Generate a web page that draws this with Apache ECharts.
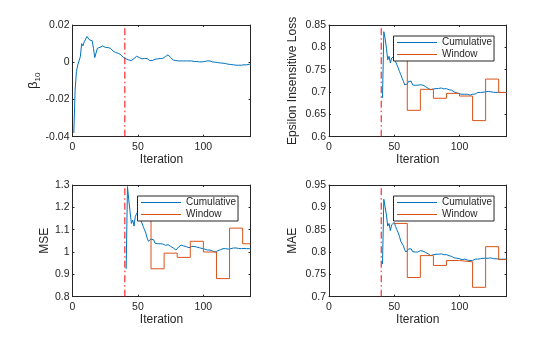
<!DOCTYPE html>
<html><head><meta charset="utf-8">
<script src="https://cdn.jsdelivr.net/npm/echarts@6/dist/echarts.min.js"></script>
<style>html,body{margin:0;padding:0;background:#fff}#c{width:560px;height:337px}</style>
</head><body><div id="c"></div>
<script>
// ---------------- data ----------------
const iterMax = 136;
const warmupPeriod = 40;
const xTicks = [0, 50, 100];

// beta_10 estimate, iterations 1..136
const beta10 = [
-0.038, -0.015, -0.005, -0.0015, -0.002, 0.003, 0.010, 0.0088, 0.011, 0.010,
0.0138, 0.0132, 0.012, 0.0123, 0.0116, 0.0075, 0.0025, 0.003, 0.0075, 0.008,
0.008, 0.0084, 0.0088, 0.009, 0.008, 0.0075, 0.0079, 0.0079, 0.0075, 0.0066,
0.006, 0.0055, 0.0052, 0.0054, 0.0048, 0.0043, 0.004, 0.003, 0.0025, 0.0021,
0.0018, 0.0016, 0.0012, 0.0009, 0.0009, 0.0012, 0.002, 0.003, 0.0032, 0.003,
0.0025, 0.0021, 0.0018, 0.0021, 0.002, 0.0016, 0.002, 0.0016, 0.0009, 0.0007,
0.0009, 0.0012, 0.0016, 0.0018, 0.0018, 0.002, 0.002, 0.0018, 0.0021, 0.0025,
0.003, 0.0036, 0.004, 0.0034, 0.0025, 0.0016, 0.0012, 0.0011, 0.0009, 0.0009,
0.0007, 0.0009, 0.0007, 0.0009, 0.0007, 0.0009, 0.0007, 0.0005, 0.0007, 0.0009,
0.0007, 0.0004, 0.0004, 0.0005, 0.0004, 0.0002, 0.0002, 0, 0.0002, 0.0002,
0.0004, 0.0005, 0.0007, 0.0009, 0.0007, 0.0004, 0.0002, 0, 0, -0.0002,
-0.0002, -0.0002, -0.0004, -0.0004, -0.0005, -0.0005, -0.0007, -0.0009, -0.0011, -0.0012,
-0.0012, -0.0014, -0.0014, -0.0014, -0.0016, -0.0016, -0.0016, -0.0016, -0.0016, -0.0016,
-0.0014, -0.0014, -0.0014, -0.0012, -0.0011, -0.0011
];

// cumulative metrics, iterations 41..136
const cumStart = 41;
const epsCum = [
0.687, 0.835, 0.82, 0.798, 0.772, 0.78, 0.765, 0.776, 0.773, 0.78,
0.768, 0.761, 0.754, 0.746, 0.739, 0.731, 0.724, 0.716, 0.715, 0.718,
0.724, 0.727, 0.724, 0.716, 0.714, 0.715, 0.716, 0.7155, 0.714, 0.716,
0.715, 0.7155, 0.714, 0.712, 0.71, 0.708, 0.707, 0.705, 0.704, 0.707,
0.708, 0.7075, 0.707, 0.708, 0.71, 0.709, 0.7075, 0.707, 0.708, 0.7075,
0.706, 0.705, 0.704, 0.704, 0.701, 0.7, 0.699, 0.698, 0.697, 0.696,
0.696, 0.695, 0.694, 0.695, 0.6955, 0.695, 0.694, 0.693, 0.694, 0.695,
0.694, 0.6955, 0.697, 0.699, 0.7, 0.699, 0.7, 0.6995, 0.7, 0.7005,
0.701, 0.7015, 0.701, 0.7005, 0.7, 0.6995, 0.699, 0.699, 0.699, 0.6995,
0.699, 0.699, 0.699, 0.699, 0.699, 0.699
];
const mseCum = [
0.924, 1.293, 1.233, 1.18, 1.128, 1.143, 1.116, 1.16, 1.167, 1.182,
1.16, 1.145, 1.13, 1.115, 1.1, 1.085, 1.063, 1.048, 1.052, 1.058,
1.066, 1.055, 1.04, 1.033, 1.037, 1.033, 1.037, 1.033, 1.036, 1.033,
1.03, 1.029, 1.033, 1.029, 1.025, 1.022, 1.018, 1.013, 1.009, 1.016,
1.022, 1.028, 1.031, 1.028, 1.027, 1.025, 1.024, 1.021, 1.019, 1.022,
1.025, 1.027, 1.025, 1.024, 1.022, 1.021, 1.019, 1.018, 1.016, 1.015,
1.013, 1.01, 1.009, 1.01, 1.009, 1.007, 1.004, 1.001, 1.0, 1.003,
1.006, 1.007, 1.01, 1.013, 1.015, 1.016, 1.015, 1.013, 1.013, 1.015,
1.015, 1.016, 1.018, 1.019, 1.018, 1.016, 1.016, 1.015, 1.015, 1.015,
1.016, 1.015, 1.015, 1.016, 1.015, 1.015
];
const maeCum = [
0.773, 0.918, 0.901, 0.883, 0.858, 0.864, 0.848, 0.861, 0.864, 0.866,
0.857, 0.85, 0.843, 0.835, 0.824, 0.819, 0.814, 0.805, 0.8, 0.801,
0.807, 0.811, 0.807, 0.801, 0.798, 0.8, 0.802, 0.8, 0.801, 0.803,
0.801, 0.802, 0.8, 0.799, 0.797, 0.796, 0.794, 0.792, 0.792, 0.794,
0.796, 0.795, 0.794, 0.795, 0.797, 0.796, 0.794, 0.794, 0.794, 0.794,
0.792, 0.792, 0.791, 0.79, 0.789, 0.787, 0.786, 0.786, 0.785, 0.785,
0.784, 0.783, 0.783, 0.784, 0.783, 0.782, 0.782, 0.781, 0.78, 0.781,
0.782, 0.784, 0.785, 0.784, 0.786, 0.785, 0.786, 0.786, 0.787, 0.786,
0.785, 0.786, 0.786, 0.787, 0.786, 0.785, 0.784, 0.785, 0.784, 0.784,
0.784, 0.784, 0.784, 0.784, 0.784, 0.784
];

// window metrics: value held from each edge to the next
const windowEdges = [50, 60, 70, 80, 90, 100, 110, 120, 130, 136];
const epsWin = [0.78, 0.659, 0.706, 0.686, 0.697, 0.691, 0.636, 0.729, 0.699];
const mseWin = [1.17, 0.925, 0.995, 0.976, 1.048, 1.0, 0.881, 1.107, 1.037];
const maeWin = [0.864, 0.743, 0.792, 0.770, 0.781, 0.778, 0.721, 0.812, 0.783];

// y-axis tick ranges [min, max, interval]
const yBeta = [-0.04, 0.02, 0.02];
const yEps = [0.6, 0.85, 0.05];
const yMse = [0.8, 1.3, 0.1];
const yMae = [0.7, 0.95, 0.05];

// ---------------- chart ----------------
const ink = '#262626';
const blue = '#0072BD';
const orange = '#D95319';
const red = '#FF0000';
const font = "'Liberation Sans', Arial, Helvetica, sans-serif";

const grids = [
  {left: 72.5, top: 25, width: 178, height: 111.7},
  {left: 329, top: 25, width: 177.5, height: 111.7},
  {left: 72.5, top: 185, width: 178, height: 111.7},
  {left: 329, top: 185, width: 177.5, height: 111.7}
];

function xAx(g, pos) {
  return {
    type: 'value', gridIndex: g, position: pos,
    min: xTicks[0], max: iterMax, interval: xTicks[1] - xTicks[0],
    name: pos === 'bottom' ? 'Iteration' : '',
    nameLocation: 'middle', nameGap: 16,
    nameTextStyle: {fontSize: 12, color: ink, fontFamily: font},
    axisLine: {show: true, onZero: false, lineStyle: {color: ink, width: 1}},
    axisTick: {show: true, inside: true, length: 2, lineStyle: {color: ink, width: 1}},
    axisLabel: {show: pos === 'bottom', margin: 5, fontSize: 10.5, color: ink, fontFamily: font, showMaxLabel: false},
    splitLine: {show: false}
  };
}
function yAx(g, pos, r, name, gap, rich) {
  return {
    type: 'value', gridIndex: g, position: pos,
    min: r[0], max: r[1], interval: r[2],
    name: pos === 'left' ? name : '',
    nameLocation: 'middle', nameGap: gap,
    nameTextStyle: Object.assign({fontSize: 12, color: ink, fontFamily: font}, rich ? {rich: rich} : {}),
    axisLine: {show: true, onZero: false, lineStyle: {color: ink, width: 1}},
    axisTick: {show: true, inside: true, length: 2, lineStyle: {color: ink, width: 1}},
    axisLabel: {show: pos === 'left', margin: 3, fontSize: 10.5, color: ink, fontFamily: font},
    splitLine: {show: false}
  };
}

const betaRich = {
  b: {fontSize: 13, color: ink, fontFamily: font, lineHeight: 16, verticalAlign: 'middle'},
  s: {fontSize: 8, color: ink, fontFamily: font, lineHeight: 9, verticalAlign: 'bottom'}
};

const xAxis = [], yAxis = [];
const yRanges = [yBeta, yEps, yMse, yMae];
const yNames = ['{b|β}{s|10}', 'Epsilon Insensitive Loss', 'MSE', 'MAE'];
const yGaps = [30, 30, 20, 30];
for (let g = 0; g < 4; g++) {
  xAxis.push(xAx(g, 'bottom'), xAx(g, 'top'));
  yAxis.push(yAx(g, 'left', yRanges[g], yNames[g], yGaps[g], g === 0 ? betaRich : null),
             yAx(g, 'right', yRanges[g], '', 0, null));
}

function cumData(arr, start) { return arr.map((v, i) => [start + i, v]); }
function winData(vals) { return windowEdges.map((x, i) => [x, vals[Math.min(i, vals.length - 1)]]); }

const series = [];
// warm-up period marker: a vertical line at x = warmupPeriod across the y range
for (let g = 0; g < 4; g++) {
  series.push({type: 'line', name: 'warmup', xAxisIndex: 2 * g, yAxisIndex: 2 * g,
    data: [[warmupPeriod, yRanges[g][0]], [warmupPeriod, yRanges[g][1]]],
    symbol: 'none', silent: true, z: 1,
    lineStyle: {color: red, width: 1, type: [7, 3, 1.5, 3]}, itemStyle: {color: red}});
}
series.push({type: 'line', name: 'beta10', xAxisIndex: 0, yAxisIndex: 0, data: cumData(beta10, 1),
  symbol: 'none', lineStyle: {color: blue, width: 1}, itemStyle: {color: blue}});
const cumSets = [epsCum, mseCum, maeCum];
const winSets = [epsWin, mseWin, maeWin];
for (let k = 0; k < 3; k++) {
  const g = k + 1;
  series.push({type: 'line', name: 'Cumulative', xAxisIndex: 2 * g, yAxisIndex: 2 * g,
    data: cumData(cumSets[k], cumStart), symbol: 'none',
    lineStyle: {color: blue, width: 1}, itemStyle: {color: blue}});
  series.push({type: 'line', name: 'Window', xAxisIndex: 2 * g, yAxisIndex: 2 * g,
    data: winData(winSets[k]), step: 'end', symbol: 'none',
    lineStyle: {color: orange, width: 1}, itemStyle: {color: orange}});
}

function legendAt(left, top) {
  return {
    data: ['Cumulative', 'Window'], orient: 'vertical', left: left, top: top,
    backgroundColor: '#fff', borderColor: ink, borderWidth: 1,
    padding: [1, 2, 1, 3], itemGap: 1, itemWidth: 40, itemHeight: 11,
    selectedMode: false,
    itemStyle: {opacity: 0},
    lineStyle: {width: 1},
    textStyle: {fontSize: 10, color: ink, fontFamily: font, lineHeight: 11}
  };
}

const option = {
  animation: false,
  textStyle: {fontFamily: font},
  grid: grids,
  xAxis: xAxis,
  yAxis: yAxis,
  legend: [legendAt(393.5, 36), legendAt(137.5, 196), legendAt(393.5, 196)],
  series: series
};

const chart = echarts.init(document.getElementById('c'), null, {renderer: 'canvas'});
chart.setOption(option);
</script>
</body></html>
